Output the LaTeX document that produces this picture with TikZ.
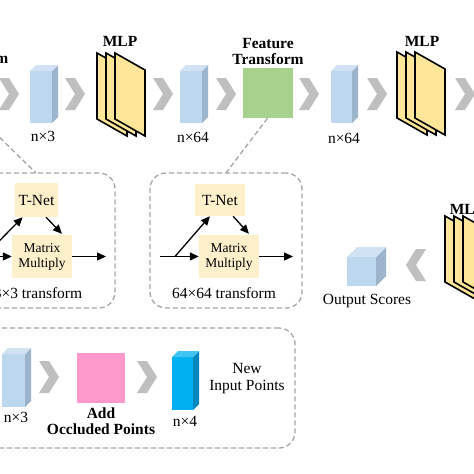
\documentclass[tikz,border=0pt]{standalone}
\usepackage{fontspec}
\setmainfont{Liberation Serif}
\usetikzlibrary{arrows.meta,calc}
\definecolor{chev}{HTML}{BFBFBF}
\definecolor{dashc}{HTML}{A6A6A6}
\definecolor{bfront}{HTML}{BDD7EE}
\definecolor{bside}{HTML}{9DB5CC}
\definecolor{btop}{HTML}{D0E2F3}
\definecolor{cfront}{HTML}{00B0F0}
\definecolor{cside}{HTML}{0088BE}
\definecolor{ctop}{HTML}{40C4F4}
\definecolor{mlpc}{HTML}{FFE699}
\definecolor{greenc}{HTML}{A9D18E}
\definecolor{pinkc}{HTML}{FF99CC}
\definecolor{beige}{HTML}{FFF0CC}
\newcommand\chevR[2]{\fill[chev] (#1,#2) -- ++(10,0) -- ++(10,16) -- ++(-10,16) -- ++(-10,0) -- ++(10,-16) -- cycle;}
\newcommand\chevL[2]{\fill[chev] (#1,#2) -- ++(-10,0) -- ++(-10,16) -- ++(10,16) -- ++(10,0) -- ++(-10,-16) -- cycle;}
% x, y (front top-left), w, h, d, colour prefix
\newcommand\cuboid[6]{%
  \fill[#6front] (#1,#2) rectangle ++(#3,#4);
  \fill[#6side] (#1,#2) ++(#3,0) -- ++(#5,-#5) -- ++(0,#4) -- ++(-#5,#5) -- cycle;
  \fill[#6top] (#1,#2) -- ++(#5,-#5) -- ++(#3,0) -- ++(-#5,#5) -- cycle;}
\newcommand\sheet[2]{\filldraw[sheetst] (#1,#2) -- ++(30,17) -- ++(0,66) -- ++(-30,-17) -- cycle;}
\newcommand\mlp[2]{\sheet{#1}{#2}\sheet{#1+9}{#2}\sheet{#1+18}{#2}}
\tikzset{
  sheetst/.style={fill=mlpc,draw=black,line width=1.6pt,line join=miter},
  lbl/.style={font=\fontsize{15.5}{17}\selectfont, inner sep=0pt, align=center},
  blbl/.style={font=\fontsize{15.5}{16}\selectfont\bfseries, inner sep=0pt, align=center},
  small/.style={font=\fontsize{13.5}{15}\selectfont, align=center},
  dbox/.style={draw=dashc, dashed, dash pattern=on 5pt off 3pt, line width=1.3pt, rounded corners=16pt},
  dline/.style={draw=dashc, dash pattern=on 5pt off 3pt, line width=1.3pt},
  tbox/.style={fill=beige, inner sep=0pt},
  arr/.style={line width=1.3pt, -{Triangle[length=9pt,width=8pt]}},
  pln/.style={line width=1.3pt}
}
\begin{document}
\begin{tikzpicture}[x=1pt,y=-1pt]
\useasboundingbox (0,0) rectangle (474,474);
\clip (0,0) rectangle (474,474);
\fill[white] (0,0) rectangle (474,474);

% ---------- top row ----------
\node[blbl, anchor=base east] (itlbl) at (8.5,63) {Transform};
\chevR{-1}{78}
\cuboid{30}{71}{22}{52}{6}{b}
\node[lbl] (n3a) at (43,136) {n×3};
\chevR{65}{78}
\mlp{97}{53}
\node[blbl] (mlp1) at (120,41) {MLP};
\chevR{153}{78}
\cuboid{180}{71}{22}{52}{6}{b}
\node[lbl] (n64a) at (193,137) {n×64};
\chevR{216}{78}
\node[fill=greenc, minimum width=50pt, minimum height=50pt, inner sep=0pt] (green) at (267.5,93) {};
\node[blbl] (ftlbl) at (268,51) {Feature\\Transform};
\chevR{299}{78}
\cuboid{331}{71}{21}{52}{6}{b}
\node[lbl] (n64b) at (344,138) {n×64};
\chevR{367}{78}
\mlp{397}{52}
\node[blbl] (mlp2) at (422,41) {MLP};
\chevR{455}{78}

% ---------- transform boxes ----------
\node[dbox, minimum width=135pt, minimum height=135pt] (box1) at (47.5,240.5) {};
\node[dbox, minimum width=152pt, minimum height=135pt] (box2) at (226,240.5) {};
\coordinate (it) at (-6,132);
\coordinate (c1) at (36,173);
\draw[dline] (it) -- (c1);
\coordinate (c2) at (226,173);
\draw[dline] (green.south) -- (c2);

\node[tbox, minimum width=43pt, minimum height=34pt, font=\fontsize{15.5}{17}\selectfont] (tnet1) at (36.5,200) {T-Net};
\node[tbox, minimum width=60pt, minimum height=43pt, small] (mm1) at (42,256.5) {Matrix\\Multiply};
\coordinate (in1) at (-40,256.5);
\coordinate (b1) at (-16,256.5);
\coordinate (out1) at (106,256.5);
\draw[arr] (in1) -- (mm1.west);
\draw[arr] (b1) -- ($(tnet1.south west)!0.18!(tnet1.south east)$);
\draw[arr] ($(tnet1.south west)!0.72!(tnet1.south east)$) -- ($(mm1.north west)!0.83!(mm1.north east)+(0,-1)$);
\draw[arr] (mm1.east) -- (out1);
\node[lbl] (t1lbl) at (38,293) {3×3 transform};

\node[tbox, minimum width=50pt, minimum height=32pt, font=\fontsize{15.5}{17}\selectfont] (tnet2) at (220,200) {T-Net};
\node[tbox, minimum width=60pt, minimum height=43pt, small] (mm2) at (229,256.5) {Matrix\\Multiply};
\coordinate (in2) at (160,256.5);
\coordinate (b2) at (175,256.5);
\coordinate (out2) at (293,256.5);
\draw[arr] (in2) -- (mm2.west);
\draw[arr] (b2) -- ($(tnet2.south west)!0.3!(tnet2.south east)$);
\draw[arr] ($(tnet2.south west)!0.76!(tnet2.south east)$) -- ($(mm2.north west)!0.83!(mm2.north east)+(0,-1)$);
\draw[arr] (mm2.east) -- (out2);
\node[lbl] (t2lbl) at (224,293) {64×64 transform};

% ---------- output ----------
\cuboid{347}{257}{29}{29}{10}{b}
\node[lbl] (oslbl) at (367,301) {Output Scores};
\chevL{426}{249}
\mlp{445}{216}
\node[blbl] (mlp3) at (467,209) {MLP};

% ---------- bottom box ----------
\node[dbox, minimum width=315pt, minimum height=120pt] (box3) at (137.5,388) {};
\cuboid{2}{354}{23}{53}{6}{b}
\node[lbl] (n3b) at (16,417) {n×3};
\chevR{39}{361}
\node[fill=pinkc, minimum width=48pt, minimum height=50pt, inner sep=0pt] (pink) at (101,378) {};
\node[blbl] (aolbl) at (101,421) {Add\\Occluded Points};
\chevR{137}{361}
\cuboid{172}{357}{21}{53}{6}{c}
\node[lbl] (n4) at (185,421) {n×4};
\node[lbl] (nip) at (247,379) {New\\Input Points};
\end{tikzpicture}
\end{document}
